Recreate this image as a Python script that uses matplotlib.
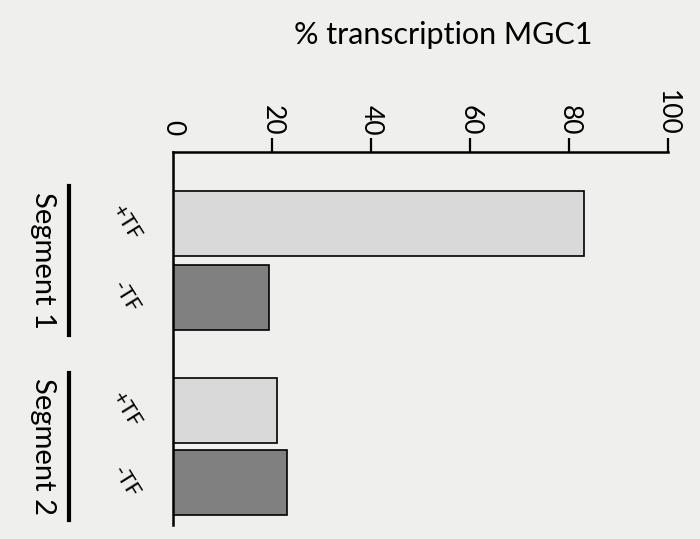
import matplotlib.pyplot as plt
import matplotlib.transforms as mtransforms
from matplotlib.lines import Line2D

plt.rcParams['font.family'] = ['Lato', 'DejaVu Sans']

conditions = ["+TF", "-TF", "+TF", "-TF"]
segments = ["Segment 1", "Segment 2"]
values = [83, 19.5, 21, 23]
colors = ["#d9d9d9", "#808080", "#d9d9d9", "#808080"]
ticks = [0, 20, 40, 60, 80, 100]

pos = [0, 1.03, 2.6, 3.6]

fig = plt.figure(figsize=(7, 5.39), dpi=100)
fig.patch.set_facecolor("#efefed")
ax = fig.add_axes([0.247, 0.026, 0.707, 0.692])
ax.set_facecolor("#efefed")

ax.barh(pos, values, height=0.9, color=colors, edgecolor="black", linewidth=1.2)

ax.set_xlim(0, 100)
ax.set_ylim(4.19, -0.99)
ax.xaxis.tick_top()
ax.set_xticks(ticks)
ax.tick_params(axis="x", direction="out", length=10, width=1.6, labelsize=19,
               labelrotation=-90, pad=2)
ax.xaxis.get_major_ticks()[0].tick2line.set_visible(False)
ax.set_yticks([])
ax.spines["right"].set_visible(False)
ax.spines["bottom"].set_visible(False)
ax.spines["top"].set_linewidth(1.8)
ax.spines["left"].set_linewidth(1.8)

fig.text(0.633, 0.935, "% transcription MGC1", ha="center", va="center", fontsize=22)

trans = mtransforms.blended_transform_factory(ax.transAxes, ax.transData)
for p, c in zip(pos, conditions):
    ax.text(-0.095, p, c, transform=trans, rotation=-58, ha="center", va="center",
            fontsize=16)

groups = [(pos[0], pos[1]), (pos[2], pos[3])]
for (a, b), seg in zip(groups, segments):
    ax.add_line(Line2D([-0.21, -0.21], [a - 0.52, b + 0.52], transform=trans,
                       color="black", linewidth=3, clip_on=False))
    ax.text(-0.262, (a + b) / 2, seg, transform=trans, rotation=-90,
            ha="center", va="center", fontsize=21)

plt.savefig("out.png", dpi=100, facecolor=fig.get_facecolor())
